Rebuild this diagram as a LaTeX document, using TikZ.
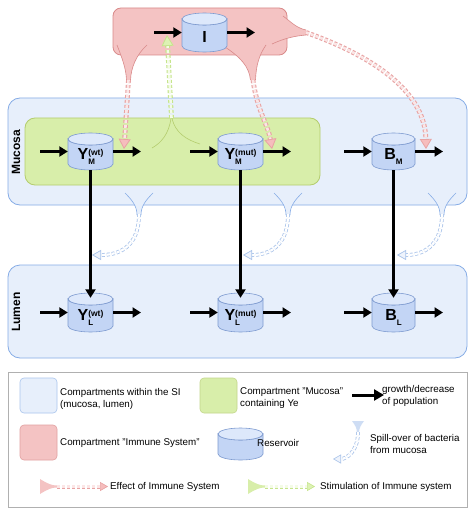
\documentclass[tikz,border=0pt]{standalone}
\usepackage{fontspec}
\setmainfont{Liberation Sans}
\usetikzlibrary{arrows.meta,calc}
\definecolor{mucF}{HTML}{E7EFFB}
\definecolor{mucD}{HTML}{86ACE6}
\definecolor{grnF}{HTML}{D8EEAA}
\definecolor{grnD}{HTML}{B4CD6E}
\definecolor{pnkF}{HTML}{F4C3C3}
\definecolor{pnkD}{HTML}{D98A8A}
\definecolor{cylB}{HTML}{C3D5F5}
\definecolor{cylT}{HTML}{DDE8FB}
\definecolor{cylD}{HTML}{7E9BD0}
\definecolor{pnkO}{HTML}{E8A3A3}
\definecolor{pnkI}{HTML}{FBE6E6}
\definecolor{pnkT}{HTML}{F6BDBD}
\definecolor{grnO}{HTML}{C6E58C}
\definecolor{grnI}{HTML}{F4FBE6}
\definecolor{grnT}{HTML}{DDF2B4}
\definecolor{bluO}{HTML}{A9C3EA}
\definecolor{bluT}{HTML}{EEF3FC}
\definecolor{legD}{HTML}{B0B0B0}
\tikzset{
  flow/.style={line width=2.6pt,-{Triangle[length=8.5pt,width=10pt]}},
  pinkarrow/.style={draw=pnkO,line width=1.1pt,double=pnkI,double distance=2.6pt,dash pattern=on 3pt off 2pt,-{Triangle[length=10pt,width=12pt,fill=pnkT,line width=0.8pt]}},
  greenarrow/.style={draw=grnO,line width=1.1pt,double=grnI,double distance=2.6pt,dash pattern=on 3pt off 2pt,-{Triangle[length=11pt,width=12pt,fill=grnT,line width=0.8pt]}},
  spillarrow/.style={draw=bluO,line width=0.8pt,double=white,double distance=2.2pt,dash pattern=on 3pt off 2pt,-{Triangle[length=9pt,width=10pt,fill=bluT,line width=0.7pt]}},
  mucbox/.style={fill=mucF,draw=mucD,line width=0.8pt,rounded corners=12pt},
  grnbox/.style={fill=grnF,draw=grnD,line width=0.8pt,rounded corners=10pt},
  immbox/.style={fill=pnkF,draw=pnkD,line width=0.8pt,rounded corners=8pt},
  cylbody/.style={fill=cylB,draw=cylD,line width=0.6pt},
  cyltop/.style={fill=cylT,draw=cylD,line width=0.6pt},
  cyllabel/.style={inner sep=0pt,font=\bfseries},
  sidelabel/.style={rotate=90,font=\fontsize{12}{13}\selectfont\bfseries,inner sep=0pt},
  legtext/.style={anchor=west,align=left,inner sep=0pt,font=\fontsize{9.8}{12}\selectfont},
}
\newcommand\ylab[3]{{\fontsize{16}{16}\selectfont\bfseries #1}\rlap{\raisebox{-4.5pt}{\fontsize{8}{8}\selectfont\bfseries #2}}\raisebox{4pt}{\fontsize{8.5}{8.5}\selectfont\bfseries #3}}
\newcommand\blab[2]{{\fontsize{16}{16}\selectfont\bfseries #1}\raisebox{-4.5pt}{\fontsize{8}{8}\selectfont\bfseries #2}}
\newcommand\mycyl[7]{%
  \pgfmathsetmacro\cyA{#2-#4/2}%
  \pgfmathsetmacro\cyB{#2+#4/2}%
  \pgfmathsetmacro\cyT{#3-#5/2+6}%
  \pgfmathsetmacro\cyD{#3+#5/2-6}%
  \pgfmathsetmacro\cyR{#4/2}%
  \node[inner sep=0pt,minimum width=#4pt,minimum height=#5pt] (#1) at (#2,#3) {};
  \coordinate (#1-in) at (\cyA-28,#3);
  \coordinate (#1-out) at (\cyB+28,#3);
  \filldraw[cylbody] (\cyA,\cyT) -- (\cyA,\cyD) arc[start angle=180,end angle=360,x radius=\cyR pt,y radius=6pt] -- (\cyB,\cyT) arc[start angle=0,end angle=-180,x radius=\cyR pt,y radius=6pt] -- cycle;
  \filldraw[cyltop] (#2,\cyT) ellipse[x radius=\cyR pt,y radius=6pt];
  \node[cyllabel] (#1-label) at (#2,#3+#7) {#6};
}
\begin{document}
\begin{tikzpicture}[x=1pt,y=-1pt]
\useasboundingbox (0,0) rectangle (474,513);
\fill[white] (0,0) rectangle (474,513);
% compartments
\draw[mucbox] (8,98) rectangle (467,205);
\draw[mucbox] (8,265) rectangle (467,358);
\draw[grnbox] (25,118) rectangle (320,185);
\draw[immbox] (113,8) rectangle (287,55);
% immune flares
\fill[pnkF] (117,45) .. controls (122,58) and (126,68) .. (126.5,80) -- (130.5,80) .. controls (131,68) and (136,55) .. (147,45) -- cycle;
\draw[pnkD,line width=0.6pt] (117,45) .. controls (122,58) and (126,68) .. (126.5,80);
\draw[pnkD,line width=0.6pt] (130.5,80) .. controls (131,68) and (136,55) .. (147,45);
\fill[pnkF] (225,47) .. controls (240,57) and (249,66) .. (250.5,80) -- (255.5,80) .. controls (256,66) and (259,55) .. (266,45) -- cycle;
\draw[pnkD,line width=0.6pt] (225,47) .. controls (240,57) and (249,66) .. (250.5,80);
\draw[pnkD,line width=0.6pt] (255.5,80) .. controls (256,66) and (259,55) .. (266,45);
\fill[pnkF] (283,16) .. controls (290,21) and (296,28) .. (306,30) -- (306,35) .. controls (295,36) and (285,38) .. (272,44) -- cycle;
\draw[pnkD,line width=0.6pt] (283,16) .. controls (290,21) and (296,28) .. (306,30);
\draw[pnkD,line width=0.6pt] (306,35) .. controls (295,36) and (285,38) .. (272,44);
\coordinate (f1) at (128.5,80);
\coordinate (f2) at (253,80);
\coordinate (f3) at (306,32.5);
% green funnel
\draw[grnD,line width=0.6pt] (171,118) .. controls (169,134) and (161,143) .. (152,148);
\draw[grnD,line width=0.6pt] (172,118) .. controls (175,133) and (187,140) .. (200,144);
\coordinate (g1) at (171.5,118);
% spill funnels
\foreach \sx/\nm in {139/s1,288/s2,442/s3}{
  \fill[mucF] (\sx-14,193) .. controls (\sx-7,200) and (\sx-2,206) .. (\sx-2,215) -- (\sx+2,215) .. controls (\sx+2,206) and (\sx+7,200) .. (\sx+14,193) -- cycle;
  \draw[mucD,line width=0.6pt] (\sx-14,193) .. controls (\sx-7,200) and (\sx-2,206) .. (\sx-2,215);
  \draw[mucD,line width=0.6pt] (\sx+2,215) .. controls (\sx+2,206) and (\sx+7,200) .. (\sx+14,193);
  \coordinate (\nm) at (\sx,214);
}
% side labels
\node[sidelabel] (lmuc) at (16,152) {Mucosa};
\node[sidelabel] (llum) at (16,312) {Lumen};
% cylinders
\mycyl{imm}{204.5}{32.5}{45}{39}{{\fontsize{16}{16}\selectfont\bfseries I}}{4}
\mycyl{ymw}{90.5}{151.5}{45}{37}{\ylab{Y}{M}{(wt)}}{5}
\mycyl{ymm}{240.5}{151.5}{45}{37}{\ylab{Y}{M}{(mut)}}{5}
\mycyl{bm}{393.5}{151.5}{43}{37}{\blab{B}{M}}{5}
\mycyl{ylw}{90.5}{312.5}{45}{39}{\ylab{Y}{L}{(wt)}}{5}
\mycyl{ylm}{240.5}{312.5}{45}{39}{\ylab{Y}{L}{(mut)}}{5}
\mycyl{bl}{393.5}{312.5}{43}{39}{\blab{B}{L}}{5}
% flows
\foreach \c in {imm,ymw,ymm,bm,ylw,ylm,bl}{
  \draw[flow] (\c-in) -- (\c.west);
  \draw[flow] (\c.east) -- (\c-out);
}
\draw[flow,shorten >=-5pt] (ymw.south) -- (ylw.north);
\draw[flow,shorten >=-5pt] (ymm.south) -- (ylm.north);
\draw[flow,shorten >=-5pt] (bm.south) -- (bl.north);
% effect targets
\coordinate (t1) at (124,149);
\coordinate (t2) at (272,149);
\coordinate (t3) at (426,149);
\coordinate (tg) at (167,35);
\draw[pinkarrow] (f1) -- (t1);
\draw[pinkarrow] (f2) .. controls (257,110) and (268,125) .. (t2);
\draw[pinkarrow] (f3) .. controls (370,55) and (425,90) .. (t3);
\draw[greenarrow] (g1) -- (tg);
% spill arrows
\coordinate (u1) at (92,255);
\coordinate (u2) at (243,255);
\coordinate (u3) at (397,255);
\draw[spillarrow] (s1) .. controls (139,248) and (118,255) .. (u1);
\draw[spillarrow] (s2) .. controls (288,248) and (267,255) .. (u2);
\draw[spillarrow] (s3) .. controls (442,248) and (421,255) .. (u3);
% legend
\draw[legD,line width=0.8pt,fill=white] (8,372) rectangle (467,507);
\draw[fill=mucF,draw=mucD!70,line width=0.6pt,rounded corners=4pt] (20,378) rectangle (57,413);
\draw[fill=grnF,draw=grnD!80,line width=0.6pt,rounded corners=4pt] (200,378) rectangle (237,413);
\draw[fill=pnkF,draw=pnkD!80,line width=0.6pt,rounded corners=4pt] (20,425) rectangle (57,460);
\node[legtext] (lt1) at (60,398.5) {Compartments within the SI\\(mucosa, lumen)};
\node[legtext] (lt2) at (240,398.5) {Compartment "Mucosa"\\containing Ye};
\coordinate (la1) at (352,395);
\coordinate (la2) at (384,395);
\draw[flow,line width=3pt,-{Triangle[length=10pt,width=11pt]}] (la1) -- (la2);
\node[legtext] (lt3) at (382,395.5) {growth/decrease\\of population};
\node[legtext] (lt4) at (60,443) {Compartment "Immune System"};
\mycyl{leg}{240.5}{444}{45}{32}{}{0}
\node[legtext] (lt5) at (257,443) {Reservoir};
% legend spill
\fill[mucF!60!bluO] (352,421) .. controls (355,425) and (357,428) .. (357,433) -- (359,433) .. controls (359,428) and (361,425) .. (364,421) -- cycle;
\coordinate (ls1) at (358,432);
\coordinate (ls2) at (333,459);
\draw[spillarrow,-{Triangle[length=8pt,width=9pt,fill=bluT,line width=0.6pt]}] (ls1) .. controls (358,452) and (346,459) .. (ls2);
\node[legtext] (lt6) at (370,443.5) {Spill-over of bacteria\\from mucosa};
% legend effect
\fill[pnkF] (40,479) .. controls (48,484) and (52,485.5) .. (57,485.5) -- (57,487.5) .. controls (52,487.5) and (48,489) .. (40,494) -- cycle;
\coordinate (le1) at (57,486.5);
\coordinate (le2) at (108,486.5);
\draw[pinkarrow,line width=0.9pt,double distance=2.2pt,-{Triangle[length=8pt,width=9pt,fill=pnkT,line width=0.6pt]}] (le1) -- (le2);
\node[legtext] (lt7) at (110,486.5) {Effect of Immune System};
\fill[grnF] (248,479) .. controls (256,484) and (260,485.5) .. (265,485.5) -- (265,487.5) .. controls (260,487.5) and (256,489) .. (248,494) -- cycle;
\coordinate (lg1) at (265,486.5);
\coordinate (lg2) at (315,486.5);
\draw[greenarrow,line width=0.9pt,double distance=2.2pt,-{Triangle[length=8pt,width=9pt,fill=grnT,line width=0.6pt]}] (lg1) -- (lg2);
\node[legtext] (lt8) at (320,486.5) {Stimulation of Immune system};
\end{tikzpicture}
\end{document}
